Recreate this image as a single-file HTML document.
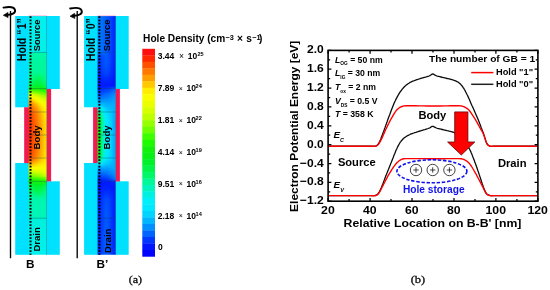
<!DOCTYPE html>
<html><head><meta charset="utf-8"><title>Figure</title>
<style>html,body{margin:0;padding:0;background:#fff}svg{display:block}text{font-family:"Liberation Sans",Arial,sans-serif;font-weight:bold;fill:#000}.ser{font-family:"Liberation Serif","Times New Roman",serif;font-weight:normal}.rg{font-weight:normal}</style></head><body>
<svg width="550" height="290" viewBox="0 0 550 290">
<defs>
<linearGradient id="a0" x1="0" y1="16.0" x2="0" y2="254.8" gradientUnits="userSpaceOnUse">
<stop offset="0.0000" stop-color="#00f0f0"/>
<stop offset="0.1508" stop-color="#00f0e9"/>
<stop offset="0.1549" stop-color="#00f7a6"/>
<stop offset="0.2345" stop-color="#00f79d"/>
<stop offset="0.2680" stop-color="#00f885"/>
<stop offset="0.2931" stop-color="#00f75a"/>
<stop offset="0.3057" stop-color="#17f606"/>
<stop offset="0.3183" stop-color="#91ff00"/>
<stop offset="0.3308" stop-color="#efff00"/>
<stop offset="0.3434" stop-color="#ffd500"/>
<stop offset="0.3559" stop-color="#ff9800"/>
<stop offset="0.3685" stop-color="#ff7000"/>
<stop offset="0.3853" stop-color="#ff5300"/>
<stop offset="0.4104" stop-color="#ff3a00"/>
<stop offset="0.4564" stop-color="#ff2d00"/>
<stop offset="0.4983" stop-color="#ff2900"/>
<stop offset="0.5402" stop-color="#ff2d00"/>
<stop offset="0.5821" stop-color="#ff3a00"/>
<stop offset="0.6030" stop-color="#ff5a00"/>
<stop offset="0.6198" stop-color="#ffa500"/>
<stop offset="0.6365" stop-color="#faff00"/>
<stop offset="0.6533" stop-color="#c5ff00"/>
<stop offset="0.6700" stop-color="#65ff00"/>
<stop offset="0.6868" stop-color="#18f605"/>
<stop offset="0.6993" stop-color="#08f016"/>
<stop offset="0.7119" stop-color="#00f655"/>
<stop offset="0.7328" stop-color="#00f87b"/>
<stop offset="0.7580" stop-color="#00f7a3"/>
<stop offset="0.7705" stop-color="#00f6ae"/>
<stop offset="0.8459" stop-color="#00f5ba"/>
<stop offset="0.8501" stop-color="#00f1da"/>
<stop offset="1.0000" stop-color="#00f0ee"/>
</linearGradient>
<linearGradient id="a1" x1="0" y1="16.0" x2="0" y2="254.8" gradientUnits="userSpaceOnUse">
<stop offset="0.0000" stop-color="#00f0f0"/>
<stop offset="0.1508" stop-color="#00f0e9"/>
<stop offset="0.1549" stop-color="#00f7a6"/>
<stop offset="0.2345" stop-color="#00f89b"/>
<stop offset="0.2680" stop-color="#00f874"/>
<stop offset="0.2931" stop-color="#00f54c"/>
<stop offset="0.3057" stop-color="#17f606"/>
<stop offset="0.3183" stop-color="#86ff00"/>
<stop offset="0.3308" stop-color="#e5ff00"/>
<stop offset="0.3434" stop-color="#ffee00"/>
<stop offset="0.3559" stop-color="#ffb300"/>
<stop offset="0.3685" stop-color="#ff8700"/>
<stop offset="0.3853" stop-color="#ff6800"/>
<stop offset="0.4104" stop-color="#ff4d00"/>
<stop offset="0.4564" stop-color="#ff4000"/>
<stop offset="0.4983" stop-color="#ff3c00"/>
<stop offset="0.5402" stop-color="#ff4000"/>
<stop offset="0.5821" stop-color="#ff4d00"/>
<stop offset="0.6030" stop-color="#ff6d00"/>
<stop offset="0.6198" stop-color="#ffb300"/>
<stop offset="0.6365" stop-color="#faff00"/>
<stop offset="0.6533" stop-color="#c8ff00"/>
<stop offset="0.6700" stop-color="#6fff00"/>
<stop offset="0.6868" stop-color="#19f704"/>
<stop offset="0.6993" stop-color="#08f016"/>
<stop offset="0.7119" stop-color="#00f548"/>
<stop offset="0.7328" stop-color="#00f86b"/>
<stop offset="0.7580" stop-color="#00f79e"/>
<stop offset="0.7705" stop-color="#00f6ad"/>
<stop offset="0.8459" stop-color="#00f5ba"/>
<stop offset="0.8501" stop-color="#00f1da"/>
<stop offset="1.0000" stop-color="#00f0ee"/>
</linearGradient>
<linearGradient id="a2" x1="0" y1="16.0" x2="0" y2="254.8" gradientUnits="userSpaceOnUse">
<stop offset="0.0000" stop-color="#00f0f0"/>
<stop offset="0.1508" stop-color="#00f0e9"/>
<stop offset="0.1549" stop-color="#00f7a6"/>
<stop offset="0.2345" stop-color="#00f89a"/>
<stop offset="0.2680" stop-color="#00f865"/>
<stop offset="0.2931" stop-color="#00f33f"/>
<stop offset="0.3057" stop-color="#17f606"/>
<stop offset="0.3183" stop-color="#7bff00"/>
<stop offset="0.3308" stop-color="#daff00"/>
<stop offset="0.3434" stop-color="#fcf900"/>
<stop offset="0.3559" stop-color="#ffce00"/>
<stop offset="0.3685" stop-color="#ff9e00"/>
<stop offset="0.3853" stop-color="#ff7d00"/>
<stop offset="0.4104" stop-color="#ff6100"/>
<stop offset="0.4564" stop-color="#ff5300"/>
<stop offset="0.4983" stop-color="#ff4f00"/>
<stop offset="0.5402" stop-color="#ff5300"/>
<stop offset="0.5821" stop-color="#ff6100"/>
<stop offset="0.6030" stop-color="#ff8000"/>
<stop offset="0.6198" stop-color="#ffc100"/>
<stop offset="0.6365" stop-color="#faff00"/>
<stop offset="0.6533" stop-color="#ccff00"/>
<stop offset="0.6700" stop-color="#78ff00"/>
<stop offset="0.6868" stop-color="#1bf803"/>
<stop offset="0.6993" stop-color="#08f016"/>
<stop offset="0.7119" stop-color="#00f33d"/>
<stop offset="0.7328" stop-color="#00f75f"/>
<stop offset="0.7580" stop-color="#00f899"/>
<stop offset="0.7705" stop-color="#00f6ac"/>
<stop offset="0.8459" stop-color="#00f5ba"/>
<stop offset="0.8501" stop-color="#00f1da"/>
<stop offset="1.0000" stop-color="#00f0ee"/>
</linearGradient>
<linearGradient id="a3" x1="0" y1="16.0" x2="0" y2="254.8" gradientUnits="userSpaceOnUse">
<stop offset="0.0000" stop-color="#00f0f0"/>
<stop offset="0.1508" stop-color="#00f0e9"/>
<stop offset="0.1549" stop-color="#00f7a6"/>
<stop offset="0.2345" stop-color="#00f898"/>
<stop offset="0.2680" stop-color="#00f75a"/>
<stop offset="0.2931" stop-color="#00f133"/>
<stop offset="0.3057" stop-color="#17f606"/>
<stop offset="0.3183" stop-color="#71ff00"/>
<stop offset="0.3308" stop-color="#ccff00"/>
<stop offset="0.3434" stop-color="#f5ff00"/>
<stop offset="0.3559" stop-color="#ffe800"/>
<stop offset="0.3685" stop-color="#ffb700"/>
<stop offset="0.3853" stop-color="#ff9100"/>
<stop offset="0.4104" stop-color="#ff7400"/>
<stop offset="0.4564" stop-color="#ff6500"/>
<stop offset="0.4983" stop-color="#ff6100"/>
<stop offset="0.5402" stop-color="#ff6500"/>
<stop offset="0.5821" stop-color="#ff7400"/>
<stop offset="0.6030" stop-color="#ff9300"/>
<stop offset="0.6198" stop-color="#ffce00"/>
<stop offset="0.6365" stop-color="#faff00"/>
<stop offset="0.6533" stop-color="#cfff00"/>
<stop offset="0.6700" stop-color="#81ff00"/>
<stop offset="0.6868" stop-color="#1cf901"/>
<stop offset="0.6993" stop-color="#08f016"/>
<stop offset="0.7119" stop-color="#00f132"/>
<stop offset="0.7328" stop-color="#00f653"/>
<stop offset="0.7580" stop-color="#00f893"/>
<stop offset="0.7705" stop-color="#00f6ab"/>
<stop offset="0.8459" stop-color="#00f5ba"/>
<stop offset="0.8501" stop-color="#00f1da"/>
<stop offset="1.0000" stop-color="#00f0ee"/>
</linearGradient>
<linearGradient id="a4" x1="0" y1="16.0" x2="0" y2="254.8" gradientUnits="userSpaceOnUse">
<stop offset="0.0000" stop-color="#00f0f0"/>
<stop offset="0.1508" stop-color="#00f0e9"/>
<stop offset="0.1549" stop-color="#00f7a6"/>
<stop offset="0.2345" stop-color="#00f896"/>
<stop offset="0.2680" stop-color="#00f64e"/>
<stop offset="0.2931" stop-color="#02f028"/>
<stop offset="0.3057" stop-color="#17f606"/>
<stop offset="0.3183" stop-color="#64ff00"/>
<stop offset="0.3308" stop-color="#beff00"/>
<stop offset="0.3434" stop-color="#ecff00"/>
<stop offset="0.3559" stop-color="#fcf600"/>
<stop offset="0.3685" stop-color="#ffd000"/>
<stop offset="0.3853" stop-color="#ffa600"/>
<stop offset="0.4104" stop-color="#ff8700"/>
<stop offset="0.4564" stop-color="#ff7800"/>
<stop offset="0.4983" stop-color="#ff7400"/>
<stop offset="0.5402" stop-color="#ff7800"/>
<stop offset="0.5821" stop-color="#ff8700"/>
<stop offset="0.6030" stop-color="#ffa600"/>
<stop offset="0.6198" stop-color="#ffdb00"/>
<stop offset="0.6365" stop-color="#faff00"/>
<stop offset="0.6533" stop-color="#d3ff00"/>
<stop offset="0.6700" stop-color="#8aff00"/>
<stop offset="0.6868" stop-color="#1efa00"/>
<stop offset="0.6993" stop-color="#08f016"/>
<stop offset="0.7119" stop-color="#02f028"/>
<stop offset="0.7328" stop-color="#00f548"/>
<stop offset="0.7580" stop-color="#00f88d"/>
<stop offset="0.7705" stop-color="#00f6aa"/>
<stop offset="0.8459" stop-color="#00f5ba"/>
<stop offset="0.8501" stop-color="#00f1da"/>
<stop offset="1.0000" stop-color="#00f0ee"/>
</linearGradient>
<linearGradient id="a5" x1="0" y1="16.0" x2="0" y2="254.8" gradientUnits="userSpaceOnUse">
<stop offset="0.0000" stop-color="#00f0f0"/>
<stop offset="0.1508" stop-color="#00f0e9"/>
<stop offset="0.1549" stop-color="#00f7a6"/>
<stop offset="0.2345" stop-color="#00f898"/>
<stop offset="0.2680" stop-color="#00f75a"/>
<stop offset="0.2931" stop-color="#00f133"/>
<stop offset="0.3057" stop-color="#15f508"/>
<stop offset="0.3183" stop-color="#57ff00"/>
<stop offset="0.3308" stop-color="#acff00"/>
<stop offset="0.3434" stop-color="#e1ff00"/>
<stop offset="0.3559" stop-color="#f9ff00"/>
<stop offset="0.3685" stop-color="#ffe700"/>
<stop offset="0.3853" stop-color="#ffc100"/>
<stop offset="0.4104" stop-color="#ffa000"/>
<stop offset="0.4564" stop-color="#ff9000"/>
<stop offset="0.4983" stop-color="#ff8d00"/>
<stop offset="0.5402" stop-color="#ff9000"/>
<stop offset="0.5821" stop-color="#ff9d00"/>
<stop offset="0.6030" stop-color="#ffb800"/>
<stop offset="0.6198" stop-color="#ffe200"/>
<stop offset="0.6365" stop-color="#fafe00"/>
<stop offset="0.6533" stop-color="#daff00"/>
<stop offset="0.6700" stop-color="#97ff00"/>
<stop offset="0.6868" stop-color="#25fb00"/>
<stop offset="0.6993" stop-color="#08f016"/>
<stop offset="0.7119" stop-color="#00f132"/>
<stop offset="0.7328" stop-color="#00f653"/>
<stop offset="0.7580" stop-color="#00f893"/>
<stop offset="0.7705" stop-color="#00f6ab"/>
<stop offset="0.8459" stop-color="#00f5ba"/>
<stop offset="0.8501" stop-color="#00f1da"/>
<stop offset="1.0000" stop-color="#00f0ee"/>
</linearGradient>
<linearGradient id="a6" x1="0" y1="16.0" x2="0" y2="254.8" gradientUnits="userSpaceOnUse">
<stop offset="0.0000" stop-color="#00f0f0"/>
<stop offset="0.1508" stop-color="#00f0e9"/>
<stop offset="0.1549" stop-color="#00f7a6"/>
<stop offset="0.2345" stop-color="#00f89a"/>
<stop offset="0.2680" stop-color="#00f865"/>
<stop offset="0.2931" stop-color="#00f33f"/>
<stop offset="0.3057" stop-color="#13f40a"/>
<stop offset="0.3183" stop-color="#49ff00"/>
<stop offset="0.3308" stop-color="#9aff00"/>
<stop offset="0.3434" stop-color="#d5ff00"/>
<stop offset="0.3559" stop-color="#f1ff00"/>
<stop offset="0.3685" stop-color="#fdf600"/>
<stop offset="0.3853" stop-color="#ffd900"/>
<stop offset="0.4104" stop-color="#ffbb00"/>
<stop offset="0.4564" stop-color="#ffaa00"/>
<stop offset="0.4983" stop-color="#ffa600"/>
<stop offset="0.5402" stop-color="#ffaa00"/>
<stop offset="0.5821" stop-color="#ffb500"/>
<stop offset="0.6030" stop-color="#ffca00"/>
<stop offset="0.6198" stop-color="#ffe900"/>
<stop offset="0.6365" stop-color="#fafd00"/>
<stop offset="0.6533" stop-color="#e0ff00"/>
<stop offset="0.6700" stop-color="#a5ff00"/>
<stop offset="0.6868" stop-color="#2cfc00"/>
<stop offset="0.6993" stop-color="#08f016"/>
<stop offset="0.7119" stop-color="#00f33d"/>
<stop offset="0.7328" stop-color="#00f75f"/>
<stop offset="0.7580" stop-color="#00f899"/>
<stop offset="0.7705" stop-color="#00f6ac"/>
<stop offset="0.8459" stop-color="#00f5ba"/>
<stop offset="0.8501" stop-color="#00f1da"/>
<stop offset="1.0000" stop-color="#00f0ee"/>
</linearGradient>
<linearGradient id="a7" x1="0" y1="16.0" x2="0" y2="254.8" gradientUnits="userSpaceOnUse">
<stop offset="0.0000" stop-color="#00f0f0"/>
<stop offset="0.1508" stop-color="#00f0e9"/>
<stop offset="0.1549" stop-color="#00f7a6"/>
<stop offset="0.2345" stop-color="#00f89b"/>
<stop offset="0.2680" stop-color="#00f874"/>
<stop offset="0.2931" stop-color="#00f54c"/>
<stop offset="0.3057" stop-color="#10f20c"/>
<stop offset="0.3183" stop-color="#3cff00"/>
<stop offset="0.3308" stop-color="#89ff00"/>
<stop offset="0.3434" stop-color="#c7ff00"/>
<stop offset="0.3559" stop-color="#e9ff00"/>
<stop offset="0.3685" stop-color="#f9ff00"/>
<stop offset="0.3853" stop-color="#ffef00"/>
<stop offset="0.4104" stop-color="#ffd500"/>
<stop offset="0.4564" stop-color="#ffc500"/>
<stop offset="0.4983" stop-color="#ffc100"/>
<stop offset="0.5402" stop-color="#ffc500"/>
<stop offset="0.5821" stop-color="#ffcd00"/>
<stop offset="0.6030" stop-color="#ffda00"/>
<stop offset="0.6198" stop-color="#ffef00"/>
<stop offset="0.6365" stop-color="#fbfd00"/>
<stop offset="0.6533" stop-color="#e7ff00"/>
<stop offset="0.6700" stop-color="#b2ff00"/>
<stop offset="0.6868" stop-color="#33fd00"/>
<stop offset="0.6993" stop-color="#08f016"/>
<stop offset="0.7119" stop-color="#00f548"/>
<stop offset="0.7328" stop-color="#00f86b"/>
<stop offset="0.7580" stop-color="#00f79e"/>
<stop offset="0.7705" stop-color="#00f6ad"/>
<stop offset="0.8459" stop-color="#00f5ba"/>
<stop offset="0.8501" stop-color="#00f1da"/>
<stop offset="1.0000" stop-color="#00f0ee"/>
</linearGradient>
<linearGradient id="a8" x1="0" y1="16.0" x2="0" y2="254.8" gradientUnits="userSpaceOnUse">
<stop offset="0.0000" stop-color="#00f0f0"/>
<stop offset="0.1508" stop-color="#00f0e9"/>
<stop offset="0.1549" stop-color="#00f7a6"/>
<stop offset="0.2345" stop-color="#00f79d"/>
<stop offset="0.2680" stop-color="#00f885"/>
<stop offset="0.2931" stop-color="#00f75a"/>
<stop offset="0.3057" stop-color="#0ff20d"/>
<stop offset="0.3183" stop-color="#33fd00"/>
<stop offset="0.3308" stop-color="#77ff00"/>
<stop offset="0.3434" stop-color="#b5ff00"/>
<stop offset="0.3559" stop-color="#deff00"/>
<stop offset="0.3685" stop-color="#f0ff00"/>
<stop offset="0.3853" stop-color="#fcfa00"/>
<stop offset="0.4104" stop-color="#ffed00"/>
<stop offset="0.4564" stop-color="#ffde00"/>
<stop offset="0.4983" stop-color="#ffda00"/>
<stop offset="0.5402" stop-color="#ffde00"/>
<stop offset="0.5821" stop-color="#ffe300"/>
<stop offset="0.6030" stop-color="#ffea00"/>
<stop offset="0.6198" stop-color="#fef200"/>
<stop offset="0.6365" stop-color="#fbfc00"/>
<stop offset="0.6533" stop-color="#edff00"/>
<stop offset="0.6700" stop-color="#bfff00"/>
<stop offset="0.6868" stop-color="#3afe00"/>
<stop offset="0.6993" stop-color="#08f016"/>
<stop offset="0.7119" stop-color="#00f655"/>
<stop offset="0.7328" stop-color="#00f87b"/>
<stop offset="0.7580" stop-color="#00f7a3"/>
<stop offset="0.7705" stop-color="#00f6ae"/>
<stop offset="0.8459" stop-color="#00f5ba"/>
<stop offset="0.8501" stop-color="#00f1da"/>
<stop offset="1.0000" stop-color="#00f0ee"/>
</linearGradient>
<linearGradient id="b0" x1="0" y1="16.0" x2="0" y2="254.8" gradientUnits="userSpaceOnUse">
<stop offset="0.0000" stop-color="#0089ff"/>
<stop offset="0.1508" stop-color="#007dff"/>
<stop offset="0.1675" stop-color="#003dff"/>
<stop offset="0.2094" stop-color="#002dff"/>
<stop offset="0.2429" stop-color="#0025ff"/>
<stop offset="0.2680" stop-color="#001cff"/>
<stop offset="0.2931" stop-color="#0017ff"/>
<stop offset="0.3057" stop-color="#0026ff"/>
<stop offset="0.3308" stop-color="#0052ff"/>
<stop offset="0.3601" stop-color="#009fff"/>
<stop offset="0.3853" stop-color="#00f0ed"/>
<stop offset="0.4062" stop-color="#00f549"/>
<stop offset="0.4355" stop-color="#11f30b"/>
<stop offset="0.5193" stop-color="#1af804"/>
<stop offset="0.5821" stop-color="#11f30b"/>
<stop offset="0.6030" stop-color="#00f549"/>
<stop offset="0.6198" stop-color="#00edfc"/>
<stop offset="0.6365" stop-color="#00a3ff"/>
<stop offset="0.6616" stop-color="#005aff"/>
<stop offset="0.6826" stop-color="#0029ff"/>
<stop offset="0.6951" stop-color="#0016ff"/>
<stop offset="0.7203" stop-color="#0018ff"/>
<stop offset="0.7454" stop-color="#001bff"/>
<stop offset="0.7705" stop-color="#001dff"/>
<stop offset="0.8208" stop-color="#0021ff"/>
<stop offset="1.0000" stop-color="#002bff"/>
</linearGradient>
<linearGradient id="b1" x1="0" y1="16.0" x2="0" y2="254.8" gradientUnits="userSpaceOnUse">
<stop offset="0.0000" stop-color="#007bff"/>
<stop offset="0.1508" stop-color="#0073ff"/>
<stop offset="0.1675" stop-color="#0046ff"/>
<stop offset="0.2094" stop-color="#0037ff"/>
<stop offset="0.2429" stop-color="#002eff"/>
<stop offset="0.2680" stop-color="#0020ff"/>
<stop offset="0.2931" stop-color="#0019ff"/>
<stop offset="0.3057" stop-color="#002cff"/>
<stop offset="0.3308" stop-color="#005aff"/>
<stop offset="0.3601" stop-color="#009fff"/>
<stop offset="0.3853" stop-color="#00edfc"/>
<stop offset="0.4062" stop-color="#00f897"/>
<stop offset="0.4355" stop-color="#00f33f"/>
<stop offset="0.5193" stop-color="#00f131"/>
<stop offset="0.5821" stop-color="#00f33f"/>
<stop offset="0.6030" stop-color="#00f895"/>
<stop offset="0.6198" stop-color="#00e8ff"/>
<stop offset="0.6365" stop-color="#00a3ff"/>
<stop offset="0.6616" stop-color="#0060ff"/>
<stop offset="0.6826" stop-color="#002eff"/>
<stop offset="0.6951" stop-color="#0017ff"/>
<stop offset="0.7203" stop-color="#001bff"/>
<stop offset="0.7454" stop-color="#0024ff"/>
<stop offset="0.7705" stop-color="#002cff"/>
<stop offset="0.8208" stop-color="#0030ff"/>
<stop offset="1.0000" stop-color="#0038ff"/>
</linearGradient>
<linearGradient id="b2" x1="0" y1="16.0" x2="0" y2="254.8" gradientUnits="userSpaceOnUse">
<stop offset="0.0000" stop-color="#006eff"/>
<stop offset="0.1508" stop-color="#006aff"/>
<stop offset="0.1675" stop-color="#004eff"/>
<stop offset="0.2094" stop-color="#0044ff"/>
<stop offset="0.2429" stop-color="#0036ff"/>
<stop offset="0.2680" stop-color="#0024ff"/>
<stop offset="0.2931" stop-color="#001aff"/>
<stop offset="0.3057" stop-color="#0031ff"/>
<stop offset="0.3308" stop-color="#0062ff"/>
<stop offset="0.3601" stop-color="#009fff"/>
<stop offset="0.3853" stop-color="#00e2ff"/>
<stop offset="0.4062" stop-color="#00f1db"/>
<stop offset="0.4355" stop-color="#00f79e"/>
<stop offset="0.5193" stop-color="#00f88d"/>
<stop offset="0.5821" stop-color="#00f79e"/>
<stop offset="0.6030" stop-color="#00f1d9"/>
<stop offset="0.6198" stop-color="#00dcff"/>
<stop offset="0.6365" stop-color="#00a3ff"/>
<stop offset="0.6616" stop-color="#0065ff"/>
<stop offset="0.6826" stop-color="#0032ff"/>
<stop offset="0.6951" stop-color="#0018ff"/>
<stop offset="0.7203" stop-color="#001fff"/>
<stop offset="0.7454" stop-color="#002cff"/>
<stop offset="0.7705" stop-color="#0039ff"/>
<stop offset="0.8208" stop-color="#0040ff"/>
<stop offset="1.0000" stop-color="#0048ff"/>
</linearGradient>
<linearGradient id="b3" x1="0" y1="16.0" x2="0" y2="254.8" gradientUnits="userSpaceOnUse">
<stop offset="0.0000" stop-color="#0063ff"/>
<stop offset="0.1508" stop-color="#0061ff"/>
<stop offset="0.1675" stop-color="#0056ff"/>
<stop offset="0.2094" stop-color="#004fff"/>
<stop offset="0.2429" stop-color="#003eff"/>
<stop offset="0.2680" stop-color="#0028ff"/>
<stop offset="0.2931" stop-color="#001cff"/>
<stop offset="0.3057" stop-color="#0035ff"/>
<stop offset="0.3308" stop-color="#0068ff"/>
<stop offset="0.3601" stop-color="#009fff"/>
<stop offset="0.3853" stop-color="#00d2ff"/>
<stop offset="0.4062" stop-color="#00ecfc"/>
<stop offset="0.4355" stop-color="#00f0eb"/>
<stop offset="0.5193" stop-color="#00f0e4"/>
<stop offset="0.5821" stop-color="#00f0eb"/>
<stop offset="0.6030" stop-color="#00edfc"/>
<stop offset="0.6198" stop-color="#00d0ff"/>
<stop offset="0.6365" stop-color="#00a3ff"/>
<stop offset="0.6616" stop-color="#0069ff"/>
<stop offset="0.6826" stop-color="#0035ff"/>
<stop offset="0.6951" stop-color="#0019ff"/>
<stop offset="0.7203" stop-color="#0022ff"/>
<stop offset="0.7454" stop-color="#0033ff"/>
<stop offset="0.7705" stop-color="#0048ff"/>
<stop offset="0.8208" stop-color="#0050ff"/>
<stop offset="1.0000" stop-color="#0056ff"/>
</linearGradient>
<linearGradient id="b4" x1="0" y1="16.0" x2="0" y2="254.8" gradientUnits="userSpaceOnUse">
<stop offset="0.0000" stop-color="#005bff"/>
<stop offset="0.1508" stop-color="#005bff"/>
<stop offset="0.1675" stop-color="#005bff"/>
<stop offset="0.2094" stop-color="#0057ff"/>
<stop offset="0.2429" stop-color="#0045ff"/>
<stop offset="0.2680" stop-color="#002aff"/>
<stop offset="0.2931" stop-color="#001dff"/>
<stop offset="0.3057" stop-color="#0038ff"/>
<stop offset="0.3308" stop-color="#006dff"/>
<stop offset="0.3601" stop-color="#009fff"/>
<stop offset="0.3853" stop-color="#00c2ff"/>
<stop offset="0.4062" stop-color="#00dcff"/>
<stop offset="0.4355" stop-color="#00e8ff"/>
<stop offset="0.5193" stop-color="#00eafe"/>
<stop offset="0.5821" stop-color="#00e8ff"/>
<stop offset="0.6030" stop-color="#00deff"/>
<stop offset="0.6198" stop-color="#00c5ff"/>
<stop offset="0.6365" stop-color="#00a3ff"/>
<stop offset="0.6616" stop-color="#006dff"/>
<stop offset="0.6826" stop-color="#0038ff"/>
<stop offset="0.6951" stop-color="#0019ff"/>
<stop offset="0.7203" stop-color="#0024ff"/>
<stop offset="0.7454" stop-color="#0038ff"/>
<stop offset="0.7705" stop-color="#0052ff"/>
<stop offset="0.8208" stop-color="#005bff"/>
<stop offset="1.0000" stop-color="#0060ff"/>
</linearGradient>
<linearGradient id="b5" x1="0" y1="16.0" x2="0" y2="254.8" gradientUnits="userSpaceOnUse">
<stop offset="0.0000" stop-color="#0051ff"/>
<stop offset="0.1508" stop-color="#0051ff"/>
<stop offset="0.1675" stop-color="#0050ff"/>
<stop offset="0.2094" stop-color="#004bff"/>
<stop offset="0.2429" stop-color="#003cff"/>
<stop offset="0.2680" stop-color="#0026ff"/>
<stop offset="0.2931" stop-color="#001bff"/>
<stop offset="0.3057" stop-color="#003fff"/>
<stop offset="0.3308" stop-color="#0074ff"/>
<stop offset="0.3601" stop-color="#00a1ff"/>
<stop offset="0.3853" stop-color="#00bfff"/>
<stop offset="0.4062" stop-color="#00d6ff"/>
<stop offset="0.4355" stop-color="#00dfff"/>
<stop offset="0.5193" stop-color="#00e3ff"/>
<stop offset="0.5821" stop-color="#00dfff"/>
<stop offset="0.6030" stop-color="#00d8ff"/>
<stop offset="0.6198" stop-color="#00c1ff"/>
<stop offset="0.6365" stop-color="#00a4ff"/>
<stop offset="0.6616" stop-color="#0074ff"/>
<stop offset="0.6826" stop-color="#0042ff"/>
<stop offset="0.6951" stop-color="#001bff"/>
<stop offset="0.7203" stop-color="#0022ff"/>
<stop offset="0.7454" stop-color="#0033ff"/>
<stop offset="0.7705" stop-color="#0048ff"/>
<stop offset="0.8208" stop-color="#004fff"/>
<stop offset="1.0000" stop-color="#0054ff"/>
</linearGradient>
<linearGradient id="b6" x1="0" y1="16.0" x2="0" y2="254.8" gradientUnits="userSpaceOnUse">
<stop offset="0.0000" stop-color="#0043ff"/>
<stop offset="0.1508" stop-color="#0043ff"/>
<stop offset="0.1675" stop-color="#0042ff"/>
<stop offset="0.2094" stop-color="#003cff"/>
<stop offset="0.2429" stop-color="#0031ff"/>
<stop offset="0.2680" stop-color="#0021ff"/>
<stop offset="0.2931" stop-color="#0018ff"/>
<stop offset="0.3057" stop-color="#0048ff"/>
<stop offset="0.3308" stop-color="#007dff"/>
<stop offset="0.3601" stop-color="#00a3ff"/>
<stop offset="0.3853" stop-color="#00baff"/>
<stop offset="0.4062" stop-color="#00cbff"/>
<stop offset="0.4355" stop-color="#00d4ff"/>
<stop offset="0.5193" stop-color="#00d6ff"/>
<stop offset="0.5821" stop-color="#00d4ff"/>
<stop offset="0.6030" stop-color="#00cdff"/>
<stop offset="0.6198" stop-color="#00bcff"/>
<stop offset="0.6365" stop-color="#00a6ff"/>
<stop offset="0.6616" stop-color="#007dff"/>
<stop offset="0.6826" stop-color="#0050ff"/>
<stop offset="0.6951" stop-color="#001dff"/>
<stop offset="0.7203" stop-color="#001fff"/>
<stop offset="0.7454" stop-color="#002cff"/>
<stop offset="0.7705" stop-color="#0039ff"/>
<stop offset="0.8208" stop-color="#003eff"/>
<stop offset="1.0000" stop-color="#0044ff"/>
</linearGradient>
<linearGradient id="b7" x1="0" y1="16.0" x2="0" y2="254.8" gradientUnits="userSpaceOnUse">
<stop offset="0.0000" stop-color="#0034ff"/>
<stop offset="0.1508" stop-color="#0034ff"/>
<stop offset="0.1675" stop-color="#0032ff"/>
<stop offset="0.2094" stop-color="#002dff"/>
<stop offset="0.2429" stop-color="#0026ff"/>
<stop offset="0.2680" stop-color="#001aff"/>
<stop offset="0.2931" stop-color="#0015ff"/>
<stop offset="0.3057" stop-color="#0053ff"/>
<stop offset="0.3308" stop-color="#0087ff"/>
<stop offset="0.3601" stop-color="#00a6ff"/>
<stop offset="0.3853" stop-color="#00b5ff"/>
<stop offset="0.4062" stop-color="#00beff"/>
<stop offset="0.4355" stop-color="#00bfff"/>
<stop offset="0.5193" stop-color="#00c2ff"/>
<stop offset="0.5821" stop-color="#00bfff"/>
<stop offset="0.6030" stop-color="#00bfff"/>
<stop offset="0.6198" stop-color="#00b7ff"/>
<stop offset="0.6365" stop-color="#00a8ff"/>
<stop offset="0.6616" stop-color="#0087ff"/>
<stop offset="0.6826" stop-color="#0060ff"/>
<stop offset="0.6951" stop-color="#0020ff"/>
<stop offset="0.7203" stop-color="#001bff"/>
<stop offset="0.7454" stop-color="#0024ff"/>
<stop offset="0.7705" stop-color="#002cff"/>
<stop offset="0.8208" stop-color="#002eff"/>
<stop offset="1.0000" stop-color="#0034ff"/>
</linearGradient>
<linearGradient id="b8" x1="0" y1="16.0" x2="0" y2="254.8" gradientUnits="userSpaceOnUse">
<stop offset="0.0000" stop-color="#0027ff"/>
<stop offset="0.1508" stop-color="#0027ff"/>
<stop offset="0.1675" stop-color="#0024ff"/>
<stop offset="0.2094" stop-color="#001eff"/>
<stop offset="0.2429" stop-color="#0019ff"/>
<stop offset="0.2680" stop-color="#0014ff"/>
<stop offset="0.2931" stop-color="#0013ff"/>
<stop offset="0.3057" stop-color="#005eff"/>
<stop offset="0.3308" stop-color="#0092ff"/>
<stop offset="0.3601" stop-color="#00a9ff"/>
<stop offset="0.3853" stop-color="#00aeff"/>
<stop offset="0.4062" stop-color="#00adff"/>
<stop offset="0.4355" stop-color="#00a6ff"/>
<stop offset="0.5193" stop-color="#00a7ff"/>
<stop offset="0.5821" stop-color="#00a6ff"/>
<stop offset="0.6030" stop-color="#00adff"/>
<stop offset="0.6198" stop-color="#00afff"/>
<stop offset="0.6365" stop-color="#00aaff"/>
<stop offset="0.6616" stop-color="#0092ff"/>
<stop offset="0.6826" stop-color="#0071ff"/>
<stop offset="0.6951" stop-color="#0022ff"/>
<stop offset="0.7203" stop-color="#0018ff"/>
<stop offset="0.7454" stop-color="#001bff"/>
<stop offset="0.7705" stop-color="#001dff"/>
<stop offset="0.8208" stop-color="#001eff"/>
<stop offset="1.0000" stop-color="#0025ff"/>
</linearGradient>
<filter id="bl" x="-5%" y="-1%" width="110%" height="102%"><feGaussianBlur stdDeviation="0.9 0.3"/></filter>
</defs>
<rect width="550" height="290" fill="#fff"/>
<rect x="15.2" y="16.0" width="13.9" height="91.3" fill="#00e1ff"/>
<rect x="46.2" y="16.0" width="13.6" height="73.0" fill="#00e1ff"/>
<rect x="15.2" y="163" width="13.9" height="91.8" fill="#00e1ff"/>
<rect x="46.2" y="181.3" width="13.6" height="73.5" fill="#00e1ff"/>
<rect x="24.2" y="107.3" width="5" height="55.7" fill="#f01a4c" stroke="#e040a0" stroke-width="0.3"/>
<rect x="46.7" y="89.0" width="4.3" height="92.3" fill="#f01a4c" stroke="#e040a0" stroke-width="0.3"/>
<clipPath id="ca"><rect x="28.6" y="16.0" width="18.1" height="238.8"/></clipPath>
<g clip-path="url(#ca)"><g filter="url(#bl)">
<rect x="26.60" y="13.0" width="6.01" height="244.8" fill="url(#a0)"/>
<rect x="30.61" y="13.0" width="4.01" height="244.8" fill="url(#a1)"/>
<rect x="32.62" y="13.0" width="4.01" height="244.8" fill="url(#a2)"/>
<rect x="34.63" y="13.0" width="4.01" height="244.8" fill="url(#a3)"/>
<rect x="36.64" y="13.0" width="4.01" height="244.8" fill="url(#a4)"/>
<rect x="38.66" y="13.0" width="4.01" height="244.8" fill="url(#a5)"/>
<rect x="40.67" y="13.0" width="4.01" height="244.8" fill="url(#a6)"/>
<rect x="42.68" y="13.0" width="4.01" height="244.8" fill="url(#a7)"/>
<rect x="44.69" y="13.0" width="6.01" height="244.8" fill="url(#a8)"/>
</g></g>
<line x1="28.6" y1="15.7" x2="46.7" y2="15.7" stroke="#ff9ad0" stroke-width="0.6"/>
<g stroke="#0a3c58" stroke-width="0.45" opacity="0.75">
<line x1="46.7" y1="16.0" x2="46.7" y2="254.8"/>
<line x1="28.6" y1="52.4" x2="46.7" y2="52.4"/>
<line x1="28.6" y1="88.6" x2="46.7" y2="88.6"/>
<line x1="28.6" y1="112" x2="46.7" y2="112"/>
<line x1="28.6" y1="135" x2="46.7" y2="135"/>
<line x1="28.6" y1="158" x2="46.7" y2="158"/>
<line x1="28.6" y1="181.3" x2="46.7" y2="181.3"/>
<line x1="28.6" y1="218.2" x2="46.7" y2="218.2"/>
</g>
<line x1="30.5" y1="16.2" x2="30.5" y2="254.8" stroke="#000" stroke-width="2.0" stroke-dasharray="1.9 1.35"/>
<line x1="10.5" y1="11" x2="10.5" y2="258.2" stroke="#000" stroke-width="1.35"/>
<g transform="translate(0,0.0)"><path d="M3.5,7.6 C8.5,6.6 13.7,6.6 14.9,9.6 C16.1,12.8 12.5,14.6 7.0,14.9" fill="none" stroke="#000" stroke-width="1.9" stroke-linecap="round"/>
<path d="M3.3,15.3 L7.9,12.4 L8.1,17.6 Z" fill="#000" stroke="#000" stroke-width="0.6" stroke-linejoin="round"/></g>
<text transform="translate(25.90,61.30) rotate(-90) scale(0.852,1)" font-size="12.5">Hold “1”</text>
<text transform="translate(39.80,51.20) rotate(-90) scale(0.965,1)" font-size="9.7">Source</text>
<text transform="translate(39.70,149.40) rotate(-90) scale(0.990,1)" font-size="9.7">Body</text>
<text transform="translate(40.00,251.60) rotate(-90) scale(0.985,1)" font-size="9.7">Drain</text>
<text transform="translate(25.90,268.00) scale(1.100,1)" font-size="10.7">B</text>
<rect x="84.1" y="16.0" width="13.9" height="91.3" fill="#00e1ff"/>
<rect x="115.1" y="16.0" width="13.6" height="73.0" fill="#00e1ff"/>
<rect x="84.1" y="163" width="13.9" height="91.8" fill="#00e1ff"/>
<rect x="115.1" y="181.3" width="13.6" height="73.5" fill="#00e1ff"/>
<rect x="93.1" y="107.3" width="5" height="55.7" fill="#f01a4c" stroke="#e040a0" stroke-width="0.3"/>
<rect x="115.6" y="89.0" width="4.3" height="92.3" fill="#f01a4c" stroke="#e040a0" stroke-width="0.3"/>
<clipPath id="cb"><rect x="97.5" y="16.0" width="18.1" height="238.8"/></clipPath>
<g clip-path="url(#cb)"><g filter="url(#bl)">
<rect x="95.50" y="13.0" width="6.01" height="244.8" fill="url(#b0)"/>
<rect x="99.51" y="13.0" width="4.01" height="244.8" fill="url(#b1)"/>
<rect x="101.52" y="13.0" width="4.01" height="244.8" fill="url(#b2)"/>
<rect x="103.53" y="13.0" width="4.01" height="244.8" fill="url(#b3)"/>
<rect x="105.54" y="13.0" width="4.01" height="244.8" fill="url(#b4)"/>
<rect x="107.56" y="13.0" width="4.01" height="244.8" fill="url(#b5)"/>
<rect x="109.57" y="13.0" width="4.01" height="244.8" fill="url(#b6)"/>
<rect x="111.58" y="13.0" width="4.01" height="244.8" fill="url(#b7)"/>
<rect x="113.59" y="13.0" width="6.01" height="244.8" fill="url(#b8)"/>
</g></g>
<line x1="97.5" y1="15.7" x2="115.6" y2="15.7" stroke="#ff9ad0" stroke-width="0.6"/>
<g stroke="#0a3c58" stroke-width="0.45" opacity="0.75">
<line x1="115.6" y1="16.0" x2="115.6" y2="254.8"/>
<line x1="97.5" y1="52.4" x2="115.6" y2="52.4"/>
<line x1="97.5" y1="88.6" x2="115.6" y2="88.6"/>
<line x1="97.5" y1="112" x2="115.6" y2="112"/>
<line x1="97.5" y1="135" x2="115.6" y2="135"/>
<line x1="97.5" y1="158" x2="115.6" y2="158"/>
<line x1="97.5" y1="181.3" x2="115.6" y2="181.3"/>
<line x1="97.5" y1="218.2" x2="115.6" y2="218.2"/>
</g>
<line x1="99.4" y1="16.2" x2="99.4" y2="254.8" stroke="#000" stroke-width="2.0" stroke-dasharray="1.9 1.35"/>
<line x1="77.2" y1="11" x2="77.2" y2="258.2" stroke="#000" stroke-width="1.35"/>
<g transform="translate(0,0.9)"><path d="M70.2,7.6 C75.2,6.6 80.4,6.6 81.6,9.6 C82.8,12.8 79.2,14.6 73.7,14.9" fill="none" stroke="#000" stroke-width="1.9" stroke-linecap="round"/>
<path d="M70.0,15.3 L74.6,12.4 L74.8,17.6 Z" fill="#000" stroke="#000" stroke-width="0.6" stroke-linejoin="round"/></g>
<text transform="translate(94.80,61.30) rotate(-90) scale(0.852,1)" font-size="12.5">Hold “0”</text>
<text transform="translate(110.30,51.20) rotate(-90) scale(0.965,1)" font-size="9.7">Source</text>
<text transform="translate(110.20,149.40) rotate(-90) scale(0.990,1)" font-size="9.7">Body</text>
<text transform="translate(110.50,253.00) rotate(-90) scale(0.985,1)" font-size="9.7">Drain</text>
<text transform="translate(96.50,268.00) scale(1.100,1)" font-size="10.7">B’</text>
<rect x="142.3" y="48.80" width="12.7" height="6.79" fill="#ff1010"/>
<rect x="142.3" y="55.29" width="12.7" height="6.79" fill="#ff2800"/>
<rect x="142.3" y="61.77" width="12.7" height="6.79" fill="#ff5000"/>
<rect x="142.3" y="68.26" width="12.7" height="6.79" fill="#ff7800"/>
<rect x="142.3" y="74.75" width="12.7" height="6.79" fill="#ff9e00"/>
<rect x="142.3" y="81.24" width="12.7" height="6.79" fill="#ffc800"/>
<rect x="142.3" y="87.72" width="12.7" height="6.79" fill="#ffee00"/>
<rect x="142.3" y="94.21" width="12.7" height="6.79" fill="#faff00"/>
<rect x="142.3" y="100.70" width="12.7" height="6.79" fill="#ecff00"/>
<rect x="142.3" y="107.19" width="12.7" height="6.79" fill="#d8ff00"/>
<rect x="142.3" y="113.67" width="12.7" height="6.79" fill="#beff00"/>
<rect x="142.3" y="120.16" width="12.7" height="6.79" fill="#96ff00"/>
<rect x="142.3" y="126.65" width="12.7" height="6.79" fill="#6eff00"/>
<rect x="142.3" y="133.14" width="12.7" height="6.79" fill="#3eff00"/>
<rect x="142.3" y="139.62" width="12.7" height="6.79" fill="#1efa00"/>
<rect x="142.3" y="146.11" width="12.7" height="6.79" fill="#10f20c"/>
<rect x="142.3" y="152.60" width="12.7" height="6.79" fill="#08f016"/>
<rect x="142.3" y="159.09" width="12.7" height="6.79" fill="#00f02c"/>
<rect x="142.3" y="165.57" width="12.7" height="6.79" fill="#00f548"/>
<rect x="142.3" y="172.06" width="12.7" height="6.79" fill="#00f868"/>
<rect x="142.3" y="178.55" width="12.7" height="6.79" fill="#00f896"/>
<rect x="142.3" y="185.04" width="12.7" height="6.79" fill="#00f5be"/>
<rect x="142.3" y="191.52" width="12.7" height="6.79" fill="#00f0e1"/>
<rect x="142.3" y="198.01" width="12.7" height="6.79" fill="#00f0fa"/>
<rect x="142.3" y="204.50" width="12.7" height="6.79" fill="#00e8ff"/>
<rect x="142.3" y="210.99" width="12.7" height="6.79" fill="#00d4ff"/>
<rect x="142.3" y="217.47" width="12.7" height="6.79" fill="#00b6ff"/>
<rect x="142.3" y="223.96" width="12.7" height="6.79" fill="#0090ff"/>
<rect x="142.3" y="230.45" width="12.7" height="6.79" fill="#0064ff"/>
<rect x="142.3" y="236.94" width="12.7" height="6.79" fill="#0038ff"/>
<rect x="142.3" y="243.43" width="12.7" height="6.79" fill="#0016ff"/>
<rect x="142.3" y="249.91" width="12.7" height="6.79" fill="#0000ff"/>
<text transform="translate(143.10,41.60)" font-size="10.15">Hole Density (cm</text>
<text transform="translate(225.60,39.70)" font-size="7.3">−3</text>
<text transform="translate(236.90,41.60)" font-size="10.15">×</text>
<text transform="translate(246.30,41.60)" font-size="10.15">s</text>
<text transform="translate(252.30,39.70)" font-size="7.3">−1</text>
<text transform="translate(259.00,41.60)" font-size="10.15">)</text>
<text transform="translate(157.70,58.70)" font-size="8.5">3.44</text>
<text transform="translate(181.50,58.50)" font-size="8.5" text-anchor="middle" class="rg">×</text>
<text transform="translate(187.70,58.70)" font-size="8.5">10</text>
<text transform="translate(197.40,56.20)" font-size="5.6">25</text>
<text transform="translate(157.70,90.80)" font-size="8.5">7.89</text>
<text transform="translate(180.70,90.60)" font-size="7" text-anchor="middle" class="rg">×</text>
<text transform="translate(186.40,90.80)" font-size="8.5">10</text>
<text transform="translate(195.60,88.30)" font-size="5.6">24</text>
<text transform="translate(157.70,122.80)" font-size="8.5">1.81</text>
<text transform="translate(180.70,122.60)" font-size="7" text-anchor="middle" class="rg">×</text>
<text transform="translate(186.40,122.80)" font-size="8.5">10</text>
<text transform="translate(195.60,120.30)" font-size="5.6">22</text>
<text transform="translate(157.70,154.80)" font-size="8.5">4.14</text>
<text transform="translate(180.70,154.60)" font-size="7" text-anchor="middle" class="rg">×</text>
<text transform="translate(186.40,154.80)" font-size="8.5">10</text>
<text transform="translate(195.60,152.30)" font-size="5.6">19</text>
<text transform="translate(157.70,186.50)" font-size="8.5">9.51</text>
<text transform="translate(180.70,186.30)" font-size="7" text-anchor="middle" class="rg">×</text>
<text transform="translate(186.40,186.50)" font-size="8.5">10</text>
<text transform="translate(195.60,184.00)" font-size="5.6">16</text>
<text transform="translate(157.70,218.50)" font-size="8.5">2.18</text>
<text transform="translate(180.70,218.30)" font-size="7" text-anchor="middle" class="rg">×</text>
<text transform="translate(186.40,218.50)" font-size="8.5">10</text>
<text transform="translate(195.60,216.00)" font-size="5.6">14</text>
<text transform="translate(157.90,250.40)" font-size="8.5">0</text>
<text transform="translate(128.70,283.40) scale(1.060,1)" font-size="11.4" class="ser" stroke="#000" stroke-width="0.25">(a)</text>
<clipPath id="pc"><rect x="328.1" y="50.4" width="209.8" height="150.8"/></clipPath>
<g clip-path="url(#pc)" fill="none" stroke-linejoin="round">
<path d="M328.1,146.2 L330.7,146.2 L334.3,146.2 L338.7,146.2 L343.4,146.2 L348.2,146.2 L352.8,146.2 L356.8,146.2 L360.0,146.2 L362.3,146.2 L364.2,146.2 L365.6,146.2 L366.7,146.2 L367.6,146.2 L368.4,146.2 L369.1,146.2 L370.0,146.2 L370.9,146.2 L371.6,146.2 L372.3,146.2 L372.9,146.3 L373.4,146.3 L373.9,146.3 L374.4,146.2 L374.8,146.2 L375.2,146.1 L375.6,146.1 L375.9,146.0 L376.2,145.9 L376.4,145.8 L376.7,145.6 L376.9,145.4 L377.2,145.2 L377.5,144.9 L377.7,144.7 L378.0,144.3 L378.3,144.0 L378.5,143.6 L378.8,143.2 L379.0,142.8 L379.3,142.3 L379.5,141.8 L379.8,141.3 L380.0,140.8 L380.2,140.3 L380.5,139.7 L380.7,139.1 L381.0,138.4 L381.3,137.6 L381.6,136.7 L382.0,135.7 L382.4,134.7 L382.8,133.6 L383.2,132.4 L383.7,131.3 L384.1,130.1 L384.5,129.0 L384.9,127.9 L385.2,126.9 L385.6,125.9 L385.9,124.9 L386.3,123.9 L386.7,122.7 L387.2,121.4 L387.7,120.0 L388.3,118.3 L389.0,116.4 L389.8,114.4 L390.6,112.2 L391.4,110.1 L392.2,108.1 L392.9,106.2 L393.6,104.5 L394.2,103.0 L394.8,101.7 L395.4,100.5 L395.9,99.4 L396.4,98.4 L397.0,97.4 L397.5,96.4 L398.0,95.5 L398.5,94.6 L399.0,93.7 L399.5,93.0 L400.0,92.2 L400.5,91.5 L401.0,90.8 L401.5,90.1 L402.0,89.5 L402.5,88.9 L403.0,88.3 L403.5,87.8 L403.9,87.2 L404.4,86.7 L404.9,86.2 L405.5,85.8 L406.0,85.3 L406.6,84.8 L407.1,84.4 L407.7,84.0 L408.2,83.6 L408.9,83.2 L409.5,82.8 L410.2,82.4 L411.0,82.0 L411.8,81.6 L412.7,81.2 L413.7,80.9 L414.7,80.5 L415.7,80.1 L416.8,79.7 L417.9,79.4 L419.0,79.0 L420.2,78.6 L421.5,78.2 L422.9,77.8 L424.3,77.4 L425.6,77.1 L426.9,76.7 L428.0,76.3 L429.0,76.0 L429.8,75.7 L430.4,75.3 L430.8,75.0 L431.2,74.7 L431.6,74.4 L431.9,74.2 L432.3,74.1 L432.7,74.0 L433.1,74.0 L433.5,74.2 L433.9,74.4 L434.2,74.6 L434.7,74.9 L435.1,75.2 L435.8,75.5 L436.5,75.8 L437.4,76.1 L438.5,76.4 L439.7,76.7 L441.0,77.0 L442.3,77.3 L443.6,77.6 L444.8,77.9 L446.0,78.2 L447.1,78.5 L448.2,78.7 L449.2,79.0 L450.2,79.2 L451.2,79.5 L452.2,79.7 L453.1,80.0 L454.0,80.3 L454.8,80.6 L455.6,80.9 L456.3,81.2 L457.0,81.6 L457.7,81.9 L458.3,82.3 L458.9,82.7 L459.5,83.2 L460.1,83.7 L460.6,84.2 L461.1,84.8 L461.6,85.4 L462.1,86.0 L462.6,86.6 L463.0,87.3 L463.5,88.0 L464.0,88.7 L464.4,89.5 L464.9,90.3 L465.3,91.1 L465.7,92.0 L466.2,92.8 L466.6,93.7 L467.0,94.5 L467.4,95.2 L467.7,95.8 L467.9,96.4 L468.2,97.0 L468.5,97.6 L468.9,98.5 L469.4,99.6 L470.0,101.0 L470.8,102.9 L471.8,105.2 L473.0,107.7 L474.2,110.5 L475.4,113.2 L476.5,115.8 L477.5,118.1 L478.3,120.0 L478.9,121.4 L479.4,122.6 L479.7,123.5 L480.0,124.2 L480.2,124.9 L480.5,125.5 L480.7,126.2 L481.0,127.0 L481.3,127.9 L481.7,128.8 L482.0,129.6 L482.4,130.5 L482.7,131.4 L483.1,132.3 L483.4,133.1 L483.7,134.0 L484.0,134.9 L484.3,135.7 L484.5,136.6 L484.8,137.5 L485.1,138.3 L485.3,139.2 L485.6,139.9 L485.8,140.6 L486.0,141.2 L486.2,141.8 L486.4,142.3 L486.6,142.8 L486.8,143.2 L487.0,143.7 L487.2,144.0 L487.5,144.4 L487.8,144.7 L488.1,145.0 L488.4,145.3 L488.7,145.5 L489.1,145.7 L489.4,145.9 L489.9,146.1 L490.3,146.2 L490.8,146.3 L491.2,146.3 L491.7,146.3 L492.2,146.3 L492.8,146.3 L493.4,146.2 L494.1,146.2 L495.0,146.2 L495.8,146.2 L496.6,146.2 L497.4,146.2 L498.2,146.2 L499.3,146.2 L500.8,146.2 L502.6,146.2 L505.0,146.2 L508.2,146.2 L512.4,146.2 L517.1,146.2 L522.1,146.2 L527.0,146.2 L531.5,146.2 L535.2,146.2 L537.9,146.2" stroke="#0a0a0a" stroke-width="1.3"/>
<path d="M328.1,195.6 L330.7,195.6 L334.3,195.6 L338.7,195.6 L343.4,195.6 L348.2,195.6 L352.8,195.6 L356.8,195.6 L360.0,195.6 L362.3,195.6 L364.2,195.6 L365.6,195.6 L366.7,195.6 L367.6,195.6 L368.4,195.6 L369.1,195.6 L370.0,195.6 L370.9,195.6 L371.6,195.6 L372.3,195.6 L372.9,195.7 L373.4,195.7 L373.9,195.7 L374.4,195.6 L374.8,195.6 L375.2,195.5 L375.6,195.5 L375.9,195.4 L376.2,195.3 L376.4,195.2 L376.7,195.0 L376.9,194.8 L377.2,194.6 L377.5,194.3 L377.7,194.1 L378.0,193.8 L378.3,193.4 L378.5,193.1 L378.8,192.7 L379.0,192.3 L379.3,191.8 L379.6,191.3 L379.8,190.8 L380.1,190.3 L380.4,189.8 L380.6,189.2 L380.9,188.5 L381.3,187.8 L381.6,187.0 L382.0,186.1 L382.4,185.0 L382.8,183.9 L383.3,182.7 L383.7,181.4 L384.2,180.2 L384.6,179.1 L385.0,178.0 L385.4,177.0 L385.8,176.1 L386.1,175.2 L386.5,174.3 L386.8,173.4 L387.2,172.5 L387.6,171.5 L388.0,170.5 L388.5,169.4 L388.9,168.2 L389.4,167.0 L389.9,165.7 L390.4,164.4 L391.0,163.1 L391.5,161.8 L392.0,160.5 L392.5,159.2 L393.1,157.8 L393.6,156.4 L394.1,155.0 L394.7,153.7 L395.2,152.4 L395.7,151.1 L396.2,150.0 L396.7,149.0 L397.1,148.0 L397.5,147.2 L397.9,146.4 L398.3,145.6 L398.7,144.9 L399.1,144.2 L399.5,143.5 L399.9,142.8 L400.3,142.2 L400.8,141.6 L401.2,141.0 L401.6,140.5 L402.1,140.0 L402.5,139.5 L403.0,139.0 L403.5,138.5 L403.9,138.1 L404.4,137.7 L404.9,137.4 L405.4,137.0 L405.9,136.7 L406.4,136.3 L407.0,136.0 L407.6,135.7 L408.1,135.4 L408.7,135.1 L409.2,134.8 L409.9,134.5 L410.5,134.2 L411.2,133.9 L412.0,133.6 L412.8,133.3 L413.8,133.0 L414.7,132.6 L415.8,132.3 L416.8,132.0 L417.9,131.7 L418.9,131.3 L420.0,131.0 L421.1,130.7 L422.3,130.3 L423.5,129.9 L424.8,129.6 L426.0,129.2 L427.1,128.8 L428.1,128.5 L429.0,128.2 L429.7,127.9 L430.3,127.6 L430.7,127.3 L431.1,127.0 L431.5,126.7 L431.8,126.5 L432.2,126.4 L432.6,126.3 L433.0,126.3 L433.4,126.5 L433.8,126.6 L434.2,126.9 L434.6,127.2 L435.1,127.4 L435.7,127.7 L436.5,128.0 L437.4,128.3 L438.5,128.6 L439.7,128.9 L441.0,129.2 L442.3,129.5 L443.6,129.8 L444.8,130.1 L446.0,130.4 L447.1,130.7 L448.2,130.9 L449.2,131.2 L450.3,131.4 L451.3,131.7 L452.2,132.0 L453.2,132.2 L454.0,132.5 L454.8,132.8 L455.5,133.0 L456.1,133.3 L456.8,133.6 L457.3,133.9 L457.9,134.2 L458.4,134.6 L459.0,135.0 L459.6,135.5 L460.1,136.0 L460.6,136.5 L461.1,137.1 L461.6,137.7 L462.1,138.3 L462.5,138.9 L463.0,139.5 L463.5,140.1 L463.9,140.7 L464.3,141.3 L464.8,141.9 L465.2,142.6 L465.6,143.2 L466.1,143.8 L466.5,144.5 L466.9,145.1 L467.4,145.8 L467.8,146.4 L468.2,147.0 L468.7,147.7 L469.1,148.4 L469.6,149.2 L470.0,150.0 L470.4,150.9 L470.9,151.9 L471.3,152.9 L471.8,154.0 L472.2,155.1 L472.6,156.2 L473.1,157.4 L473.5,158.5 L473.9,159.6 L474.4,160.8 L474.8,162.0 L475.3,163.2 L475.7,164.4 L476.1,165.6 L476.6,166.8 L477.0,168.0 L477.4,169.2 L477.8,170.4 L478.3,171.7 L478.7,172.9 L479.1,174.2 L479.5,175.4 L479.9,176.6 L480.3,177.8 L480.7,179.0 L481.1,180.2 L481.5,181.5 L481.9,182.7 L482.3,183.9 L482.7,185.0 L483.1,186.1 L483.4,187.0 L483.7,187.8 L484.0,188.5 L484.2,189.1 L484.4,189.7 L484.6,190.2 L484.9,190.7 L485.1,191.1 L485.3,191.6 L485.5,192.0 L485.7,192.4 L486.0,192.8 L486.2,193.2 L486.4,193.5 L486.6,193.8 L486.9,194.0 L487.2,194.3 L487.5,194.5 L487.9,194.8 L488.3,194.9 L488.7,195.1 L489.1,195.3 L489.6,195.4 L490.0,195.5 L490.5,195.6 L491.0,195.7 L491.4,195.7 L491.9,195.7 L492.3,195.7 L492.9,195.7 L493.5,195.6 L494.2,195.6 L495.0,195.6 L495.8,195.6 L496.6,195.6 L497.3,195.6 L498.2,195.6 L499.3,195.6 L500.8,195.6 L502.6,195.6 L505.0,195.6 L508.2,195.6 L512.4,195.6 L517.1,195.6 L522.1,195.6 L527.0,195.6 L531.5,195.6 L535.2,195.6 L537.9,195.6" stroke="#0a0a0a" stroke-width="1.3"/>
<path d="M328.1,146.2 L330.7,146.2 L334.3,146.2 L338.7,146.2 L343.4,146.2 L348.2,146.2 L352.8,146.2 L356.8,146.2 L360.0,146.2 L362.3,146.2 L364.2,146.2 L365.6,146.2 L366.7,146.2 L367.6,146.2 L368.4,146.2 L369.1,146.2 L370.0,146.2 L370.9,146.2 L371.6,146.2 L372.3,146.2 L372.9,146.3 L373.4,146.3 L373.9,146.3 L374.3,146.2 L374.8,146.2 L375.2,146.1 L375.6,146.1 L376.0,146.0 L376.3,145.9 L376.6,145.8 L376.8,145.7 L377.1,145.5 L377.4,145.3 L377.7,145.1 L378.0,144.8 L378.3,144.5 L378.5,144.2 L378.8,143.8 L379.1,143.4 L379.3,143.0 L379.6,142.6 L379.9,142.2 L380.1,141.8 L380.3,141.4 L380.6,140.9 L380.8,140.4 L381.1,139.9 L381.4,139.2 L381.8,138.4 L382.2,137.5 L382.7,136.4 L383.2,135.2 L383.8,134.0 L384.3,132.7 L384.9,131.4 L385.4,130.2 L386.0,129.0 L386.5,127.9 L387.1,126.7 L387.6,125.6 L388.2,124.4 L388.8,123.3 L389.3,122.2 L389.9,121.1 L390.5,120.0 L391.1,118.9 L391.8,117.7 L392.4,116.6 L393.1,115.5 L393.7,114.4 L394.3,113.3 L394.9,112.4 L395.5,111.6 L396.0,110.9 L396.5,110.3 L396.9,109.8 L397.3,109.4 L397.8,109.0 L398.2,108.6 L398.6,108.3 L399.0,108.0 L399.4,107.7 L399.9,107.4 L400.3,107.2 L400.7,107.0 L401.1,106.8 L401.6,106.7 L402.0,106.5 L402.5,106.4 L402.9,106.3 L403.0,106.2 L403.1,106.1 L403.3,106.0 L403.6,105.9 L404.3,105.9 L405.4,105.8 L407.0,105.8 L409.3,105.8 L412.2,105.8 L415.6,105.8 L419.3,105.9 L423.1,105.9 L426.9,106.0 L430.6,106.0 L434.0,106.0 L437.3,106.0 L440.7,106.0 L444.1,105.9 L447.4,105.9 L450.6,105.8 L453.4,105.8 L456.0,105.8 L458.0,105.8 L459.5,105.8 L460.5,105.9 L461.2,105.9 L461.5,105.9 L461.7,106.0 L461.9,106.1 L462.1,106.2 L462.5,106.3 L463.0,106.4 L463.4,106.6 L463.9,106.7 L464.3,106.9 L464.7,107.1 L465.1,107.3 L465.6,107.5 L466.0,107.8 L466.4,108.1 L466.8,108.3 L467.2,108.5 L467.6,108.8 L468.0,109.2 L468.4,109.6 L468.9,110.1 L469.5,110.8 L470.2,111.7 L470.9,112.7 L471.7,113.9 L472.5,115.1 L473.4,116.4 L474.2,117.7 L475.0,118.9 L475.7,120.0 L476.3,121.1 L476.9,122.1 L477.5,123.1 L478.0,124.1 L478.5,125.1 L479.0,126.0 L479.5,126.9 L480.0,127.8 L480.5,128.6 L480.9,129.5 L481.4,130.2 L481.8,131.0 L482.3,131.7 L482.7,132.5 L483.0,133.2 L483.4,134.0 L483.7,134.8 L484.0,135.7 L484.3,136.6 L484.6,137.4 L484.9,138.3 L485.1,139.1 L485.4,139.9 L485.6,140.6 L485.8,141.2 L486.0,141.8 L486.2,142.3 L486.4,142.8 L486.6,143.2 L486.8,143.7 L487.0,144.0 L487.3,144.4 L487.6,144.7 L487.9,145.0 L488.2,145.3 L488.6,145.5 L488.9,145.7 L489.3,145.9 L489.7,146.1 L490.2,146.2 L490.7,146.3 L491.1,146.3 L491.6,146.3 L492.2,146.3 L492.7,146.3 L493.4,146.2 L494.1,146.2 L495.0,146.2 L495.8,146.2 L496.6,146.2 L497.4,146.2 L498.2,146.2 L499.3,146.2 L500.8,146.2 L502.6,146.2 L505.0,146.2 L508.2,146.2 L512.4,146.2 L517.1,146.2 L522.1,146.2 L527.0,146.2 L531.5,146.2 L535.2,146.2 L537.9,146.2" stroke="#ff0000" stroke-width="1.4"/>
<path d="M328.1,195.6 L330.7,195.6 L334.3,195.6 L338.7,195.6 L343.4,195.6 L348.2,195.6 L352.8,195.6 L356.8,195.6 L360.0,195.6 L362.3,195.6 L364.2,195.6 L365.6,195.6 L366.7,195.6 L367.6,195.6 L368.4,195.6 L369.1,195.6 L370.0,195.6 L370.9,195.6 L371.6,195.6 L372.3,195.6 L372.9,195.7 L373.4,195.7 L373.9,195.7 L374.3,195.6 L374.8,195.6 L375.2,195.5 L375.6,195.5 L376.0,195.4 L376.3,195.3 L376.6,195.2 L376.8,195.1 L377.1,194.9 L377.4,194.7 L377.7,194.5 L378.0,194.2 L378.2,193.9 L378.5,193.6 L378.8,193.3 L379.0,192.9 L379.3,192.5 L379.6,192.0 L379.9,191.5 L380.2,191.0 L380.5,190.4 L380.8,189.8 L381.1,189.1 L381.5,188.5 L381.8,187.8 L382.2,187.0 L382.6,186.2 L383.1,185.3 L383.5,184.4 L384.0,183.5 L384.5,182.5 L385.0,181.6 L385.5,180.6 L386.0,179.7 L386.5,178.8 L387.0,177.9 L387.4,177.0 L387.9,176.1 L388.4,175.2 L388.9,174.3 L389.5,173.4 L390.0,172.5 L390.6,171.6 L391.2,170.6 L391.9,169.5 L392.5,168.5 L393.2,167.5 L393.8,166.6 L394.4,165.8 L395.0,165.0 L395.5,164.3 L396.0,163.8 L396.4,163.3 L396.8,162.8 L397.3,162.4 L397.7,162.0 L398.1,161.7 L398.5,161.3 L398.9,161.0 L399.3,160.7 L399.7,160.4 L400.2,160.1 L400.6,159.9 L401.0,159.7 L401.5,159.5 L402.0,159.3 L402.4,159.1 L402.6,159.0 L402.8,158.9 L403.0,158.8 L403.4,158.7 L404.2,158.7 L405.3,158.6 L407.0,158.6 L409.3,158.6 L412.3,158.6 L415.6,158.6 L419.3,158.6 L423.1,158.6 L426.9,158.7 L430.6,158.7 L434.0,158.7 L437.3,158.7 L440.7,158.7 L444.1,158.7 L447.4,158.6 L450.6,158.6 L453.4,158.6 L456.0,158.6 L458.0,158.6 L459.5,158.6 L460.5,158.7 L461.2,158.7 L461.5,158.8 L461.7,158.8 L461.9,158.9 L462.1,159.0 L462.5,159.1 L463.0,159.2 L463.4,159.4 L463.9,159.5 L464.3,159.7 L464.7,159.9 L465.1,160.1 L465.6,160.3 L466.0,160.6 L466.4,160.9 L466.9,161.2 L467.3,161.5 L467.8,161.9 L468.2,162.2 L468.6,162.7 L469.1,163.1 L469.5,163.6 L469.9,164.1 L470.3,164.7 L470.7,165.2 L471.2,165.8 L471.6,166.5 L472.0,167.2 L472.5,168.0 L473.0,168.8 L473.6,169.7 L474.1,170.8 L474.8,171.9 L475.4,173.1 L476.1,174.2 L476.7,175.4 L477.4,176.6 L478.0,177.8 L478.6,179.0 L479.3,180.2 L479.9,181.4 L480.6,182.7 L481.2,183.9 L481.8,185.0 L482.3,186.1 L482.8,187.0 L483.2,187.8 L483.5,188.5 L483.8,189.1 L484.1,189.7 L484.3,190.1 L484.5,190.6 L484.8,191.1 L485.0,191.5 L485.2,191.9 L485.5,192.4 L485.7,192.7 L485.9,193.1 L486.2,193.4 L486.4,193.7 L486.7,194.0 L487.0,194.3 L487.3,194.5 L487.7,194.8 L488.1,195.0 L488.5,195.1 L489.0,195.3 L489.4,195.4 L489.9,195.5 L490.4,195.6 L490.9,195.7 L491.3,195.7 L491.8,195.7 L492.3,195.7 L492.8,195.7 L493.4,195.6 L494.2,195.6 L495.0,195.6 L495.8,195.6 L496.6,195.6 L497.3,195.6 L498.2,195.6 L499.3,195.6 L500.8,195.6 L502.6,195.6 L505.0,195.6 L508.2,195.6 L512.4,195.6 L517.1,195.6 L522.1,195.6 L527.0,195.6 L531.5,195.6 L535.2,195.6 L537.9,195.6" stroke="#ff0000" stroke-width="1.4"/>
</g>
<rect x="328.1" y="50.4" width="209.8" height="150.8" fill="none" stroke="#000" stroke-width="1.6"/>
<path d="M328.1,50.4h3.3 M537.9,50.4h-3.3 M328.1,69.2h3.3 M537.9,69.2h-3.3 M328.1,88.1h3.3 M537.9,88.1h-3.3 M328.1,106.9h3.3 M537.9,106.9h-3.3 M328.1,125.8h3.3 M537.9,125.8h-3.3 M328.1,144.6h3.3 M537.9,144.6h-3.3 M328.1,163.5h3.3 M537.9,163.5h-3.3 M328.1,182.3h3.3 M537.9,182.3h-3.3 M328.1,201.2h3.3 M537.9,201.2h-3.3 M328.1,59.8h2.1 M537.9,59.8h-2.1 M328.1,78.7h2.1 M537.9,78.7h-2.1 M328.1,97.5h2.1 M537.9,97.5h-2.1 M328.1,116.4h2.1 M537.9,116.4h-2.1 M328.1,135.2h2.1 M537.9,135.2h-2.1 M328.1,154.1h2.1 M537.9,154.1h-2.1 M328.1,172.9h2.1 M537.9,172.9h-2.1 M328.1,191.8h2.1 M537.9,191.8h-2.1 M328.1,201.2v-3.3 M328.1,50.4v3.3 M370.1,201.2v-3.3 M370.1,50.4v3.3 M412.0,201.2v-3.3 M412.0,50.4v3.3 M454.0,201.2v-3.3 M454.0,50.4v3.3 M495.9,201.2v-3.3 M495.9,50.4v3.3 M537.9,201.2v-3.3 M537.9,50.4v3.3 M349.1,201.2v-2.1 M349.1,50.4v2.1 M391.0,201.2v-2.1 M391.0,50.4v2.1 M433.0,201.2v-2.1 M433.0,50.4v2.1 M475.0,201.2v-2.1 M475.0,50.4v2.1 M516.9,201.2v-2.1 M516.9,50.4v2.1" stroke="#000" stroke-width="1.25" fill="none"/>
<text transform="translate(323.80,53.40) scale(1.030,1)" font-size="11.7" text-anchor="end">2.0</text>
<text transform="translate(323.80,72.25) scale(1.030,1)" font-size="11.7" text-anchor="end">1.6</text>
<text transform="translate(323.80,91.10) scale(1.030,1)" font-size="11.7" text-anchor="end">1.2</text>
<text transform="translate(323.80,109.95) scale(1.030,1)" font-size="11.7" text-anchor="end">0.8</text>
<text transform="translate(323.80,128.80) scale(1.030,1)" font-size="11.7" text-anchor="end">0.4</text>
<text transform="translate(323.80,147.65) scale(1.030,1)" font-size="11.7" text-anchor="end">0.0</text>
<text transform="translate(323.80,166.50) scale(1.030,1)" font-size="11.7" text-anchor="end">−0.4</text>
<text transform="translate(323.80,185.35) scale(1.030,1)" font-size="11.7" text-anchor="end">−0.8</text>
<text transform="translate(323.80,204.20) scale(1.030,1)" font-size="11.7" text-anchor="end">−1.2</text>
<text transform="translate(327.90,213.70) scale(1.050,1)" font-size="11.7" text-anchor="middle">20</text>
<text transform="translate(369.86,213.70) scale(1.050,1)" font-size="11.7" text-anchor="middle">40</text>
<text transform="translate(411.82,213.70) scale(1.050,1)" font-size="11.7" text-anchor="middle">60</text>
<text transform="translate(453.78,213.70) scale(1.050,1)" font-size="11.7" text-anchor="middle">80</text>
<text transform="translate(495.74,213.70) scale(1.050,1)" font-size="11.7" text-anchor="middle">100</text>
<text transform="translate(537.70,213.70) scale(1.050,1)" font-size="11.7" text-anchor="middle">120</text>
<text transform="translate(297.50,211.90) rotate(-90) scale(1.030,1)" font-size="11.6">Electron Potential Energy [eV]</text>
<text transform="translate(343.60,226.70) scale(1.048,1)" font-size="11.7">Relative Location on B-B' [nm]</text>
<text transform="translate(335.00,62.50) scale(1.045,1)" font-size="8.3"><tspan font-style="italic">L</tspan><tspan font-size="4.6" dy="2.8">OG</tspan><tspan dy="-2.8"> = 50 nm</tspan></text>
<text transform="translate(335.00,76.00) scale(1.045,1)" font-size="8.3"><tspan font-style="italic">L</tspan><tspan font-size="4.6" dy="2.8">IG</tspan><tspan dy="-2.8"> = 30 nm</tspan></text>
<text transform="translate(335.00,89.70) scale(1.045,1)" font-size="8.3"><tspan font-style="italic">T</tspan><tspan font-size="4.6" dy="2.8">ox</tspan><tspan dy="-2.8"> = 2 nm</tspan></text>
<text transform="translate(335.00,103.70) scale(1.045,1)" font-size="8.3"><tspan font-style="italic">V</tspan><tspan font-size="4.6" dy="2.8">DS</tspan><tspan dy="-2.8"> = 0.5 V</tspan></text>
<text transform="translate(335.00,116.90) scale(1.050,1)" font-size="8.3"><tspan font-style="italic">T</tspan> = 358 K</text>
<text transform="translate(333.40,138.10) scale(1.050,1)" font-size="9.4" font-style="italic">E<tspan font-size="5.3" dy="3.9">C</tspan></text>
<text transform="translate(333.60,188.30) scale(1.050,1)" font-size="9.4" font-style="italic">E<tspan font-size="5.3" dy="3.9">V</tspan></text>
<text transform="translate(428.90,61.50) scale(1.032,1)" font-size="9.9">The number of GB = 1</text>
<path d="M471.2,72.6 H493.4" stroke="#ff0000" stroke-width="1.5"/>
<path d="M471.2,84.3 H493.4" stroke="#222" stroke-width="1.5"/>
<text transform="translate(496.00,74.90) scale(1.090,1)" font-size="8.5">Hold "1"</text>
<text transform="translate(496.00,86.50) scale(1.090,1)" font-size="8.5">Hold "0"</text>
<text transform="translate(418.50,118.80) scale(1.050,1)" font-size="10.6">Body</text>
<text transform="translate(337.90,166.00) scale(1.050,1)" font-size="10.6">Source</text>
<text transform="translate(497.90,166.80) scale(1.060,1)" font-size="10.6">Drain</text>
<text transform="translate(402.90,193.30)" font-size="10.2" style="fill:#1212ee">Hole storage</text>
<path d="M454.7,111.9 H467.9 V142 H474.8 L461.3,155 L447.6,142 H454.7 Z" fill="#ff0000" stroke="#5a0808" stroke-width="0.8" stroke-linejoin="miter"/>
<ellipse cx="431.9" cy="171.3" rx="35.0" ry="11.5" fill="none" stroke="#1212ee" stroke-width="1.6" stroke-dasharray="3.4 1.7"/>
<circle cx="416.0" cy="170.0" r="5.7" fill="#fff" stroke="#222" stroke-width="0.85"/>
<path d="M413.3,170.0h5.4M416.0,167.3v5.4" stroke="#222" stroke-width="0.85"/>
<circle cx="432.7" cy="170.0" r="5.7" fill="#fff" stroke="#222" stroke-width="0.85"/>
<path d="M430.0,170.0h5.4M432.7,167.3v5.4" stroke="#222" stroke-width="0.85"/>
<circle cx="449.4" cy="170.0" r="5.7" fill="#fff" stroke="#222" stroke-width="0.85"/>
<path d="M446.7,170.0h5.4M449.4,167.3v5.4" stroke="#222" stroke-width="0.85"/>
<text transform="translate(410.70,283.40) scale(1.090,1)" font-size="11.4" class="ser" stroke="#000" stroke-width="0.25">(b)</text>
</svg></body></html>
